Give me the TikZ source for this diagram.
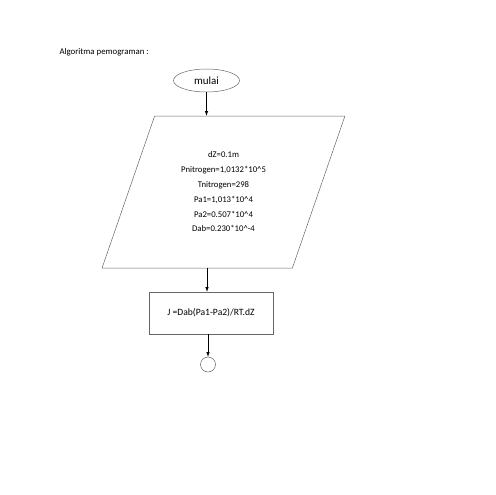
\documentclass[tikz,border=0pt]{standalone}
\usepackage{fontspec}
\setmainfont{Carlito}
\usetikzlibrary{shapes.geometric}
\tikzset{x=1pt, y=-1pt,
  line/.style={draw=gray!80!black, line width=0.5pt},
  flow/.style={->, >=latex, black, line width=0.6pt},
  txt/.style={font=\fontsize{8.7}{14.8}\selectfont, align=center}}

\begin{document}
\begin{tikzpicture}
          \useasboundingbox (0,0) rectangle (495,495);
          \node[anchor=west, font=\fontsize{8.8}{10}\selectfont] (judul) at (56,52) {Algoritma pemograman :};
          \node[ellipse, line, minimum width=66, minimum height=23, inner sep=0pt, font=\fontsize{11}{12}\selectfont] (mulai) at (206.5,80.5) {mulai};
          \node[trapezium, line, trapezium left angle=68, trapezium right angle=112, trapezium stretches=true, minimum width=243, minimum height=152, inner sep=0pt, txt] (input) at (223.5,192) {dZ=0.1m\\Pnitrogen=1,0132*10\^{}5\\Tnitrogen=298\\Pa1=1,013*10\^{}4\\Pa2=0.507*10\^{}4\\Dab=0.230*10\^{}-4};
          \node[rectangle, line, minimum width=124, minimum height=42, inner sep=0pt, txt, font=\fontsize{9.6}{12}\selectfont] (hitung) at (211,313) {J =Dab(Pa1-Pa2)/RT.dZ};
          \node[circle, line, minimum size=15, inner sep=0pt] (selesai) at (208,364.5) {};
          \coordinate (keluar) at (207,268);
          \draw[flow] (mulai) -- (mulai |- input.north);
          \draw[flow] (keluar) -- (keluar |- hitung.north);
          \draw[flow] (hitung.south -| selesai) -- (selesai);
        \end{tikzpicture}
\end{document}
